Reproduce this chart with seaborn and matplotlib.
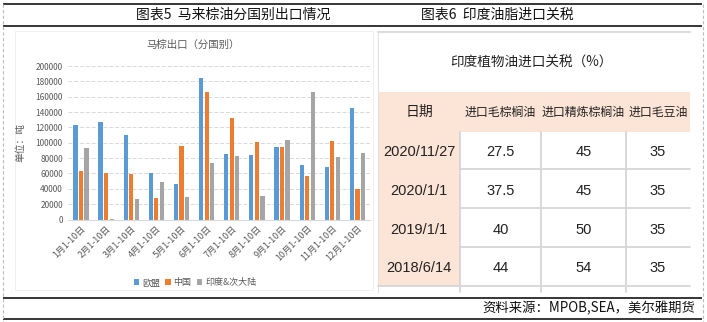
import numpy as np
import pandas as pd
import matplotlib
matplotlib.use("Agg")
import matplotlib.pyplot as plt
from matplotlib import font_manager
from matplotlib.patches import Rectangle
import seaborn as sns

# ---- export data (tonnes) ----
months = ["1月1-10日", "2月1-10日", "3月1-10日", "4月1-10日", "5月1-10日", "6月1-10日",
          "7月1-10日", "8月1-10日", "9月1-10日", "10月1-10日", "11月1-10日", "12月1-10日"]
regions = ["欧盟", "中国", "印度&次大陆"]
eu = [122500, 127400, 110700, 60000, 46000, 184200, 85300, 84000, 94100, 71300, 68700, 145700]
china = [63500, 60000, 59100, 28000, 96300, 166300, 132200, 100700, 94100, 57300, 102400, 39400]
india = [93200, 1300, 26700, 48600, 28900, 73100, 83200, 30600, 103700, 165900, 81800, 87100]
yticks = list(range(0, 200001, 20000))
palette = ["#5B9BD5", "#ED7D31", "#A5A5A5"]

# ---- India tariff table (%) ----
tariff_dates = ["2020/11/27", "2020/1/1", "2019/1/1", "2018/6/14"]
tariff_cols = ["进口毛棕榈油", "进口精炼棕榈油", "进口毛豆油"]
crude_palm = ["27.5", "37.5", "40", "44"]
refined_palm = ["45", "45", "50", "54"]
crude_soy = ["35", "35", "35", "35"]

sns.set_style("white")
plt.rcParams["font.family"] = ["Noto Sans CJK SC", "DejaVu Sans"]
names = {f.name for f in font_manager.fontManager.ttflist}
narrow = "Liberation Sans Narrow" if "Liberation Sans Narrow" in names else "Liberation Sans"

W, H = 707, 322
fig = plt.figure(figsize=(W / 100, H / 100), dpi=100)


def box(x0, y0, x1, y1):
    return [x0 / W, 1 - y1 / H, (x1 - x0) / W, (y1 - y0) / H]


# page canvas in pixel units
canvas = fig.add_axes([0, 0, 1, 1], zorder=0)
canvas.set_xlim(0, W)
canvas.set_ylim(H, 0)
canvas.axis("off")

rule = dict(color="black", lw=1.1, solid_capstyle="butt")
for y in (4, 26, 297.5, 318.5):
    canvas.plot([3, 702], [y, y], **rule)
for x in (3, 703):
    canvas.plot([x, x], [4, 322], color="#BDBDBD", lw=0.8, ls=(0, (3, 2)))

canvas.text(233, 15, "图表5  马来棕油分国别出口情况", fontsize=10, ha="center", va="center", color="#111111")
canvas.text(497, 15, "图表6  印度油脂进口关税", fontsize=10, ha="center", va="center", color="#111111")
canvas.text(695, 308, "资料来源：MPOB,SEA，美尔雅期货", fontsize=9.6, ha="right", va="center", color="#111111")

# left chart frame
canvas.add_patch(Rectangle((15, 31), 358, 259, fc="white", ec="#ECECEC", lw=0.6))

# ---- right panel: tariff table ----
peach = "#FCE4D6"
grid_c = "#D6D6D6"
canvas.plot([378, 690], [32, 32], color="#DDDDDD", lw=1.6)
canvas.plot([378, 378], [31, 292], color="#E2E2E2", lw=0.8)
canvas.add_patch(Rectangle((378, 92), 312, 40, fc=peach, ec="none"))
canvas.add_patch(Rectangle((378, 132), 82, 154, fc=peach, ec="none"))
for y in (169.3, 208.3, 247.3):
    canvas.plot([460, 690], [y, y], color=grid_c, lw=1.3)
canvas.plot([378, 690], [286, 286], color=grid_c, lw=1.3)
for x in (460, 541, 626):
    canvas.plot([x, x], [132, 292], color=grid_c, lw=1.3)

txt_c = "#222222"
canvas.text(531.5, 63, "印度植物油进口关税（%）", fontsize=9.8, ha="center", va="center", color=txt_c)
col_x = [419, 500.5, 583.5, 658]
canvas.text(col_x[0], 112, "日期", fontsize=10, ha="center", va="center", color=txt_c)
for cx, name in zip(col_x[1:], tariff_cols):
    canvas.text(cx, 112, name, fontsize=8.6, ha="center", va="center", color=txt_c)
row_y = [152, 190.5, 229.5, 268]
for i, ry in enumerate(row_y):
    vals = [tariff_dates[i], crude_palm[i], refined_palm[i], crude_soy[i]]
    for cx, v in zip(col_x, vals):
        canvas.text(cx, ry, v, fontsize=10.5, ha="center", va="center", color=txt_c, family=narrow)

# ---- left chart: exports by destination ----
df = pd.DataFrame({
    "月份": months * 3,
    "地区": np.repeat(regions, len(months)),
    "出口量": eu + china + india,
})
ax = fig.add_axes(box(68.4, 66, 370, 219.5), zorder=2)
ax.patch.set_alpha(0)
sns.barplot(data=df, x="月份", y="出口量", hue="地区", order=months, hue_order=regions,
            palette=palette, saturation=1, width=0.66, gap=0.25, errorbar=None,
            linewidth=0, ax=ax)
ax.set_xlim(-0.5, len(months) - 0.5)
ax.set_ylim(0, 200000)
ax.set_yticks(yticks)
ax.set_yticklabels([str(v) for v in yticks])
ax.set_axisbelow(True)
ax.yaxis.grid(True, color="#D9D9D9", lw=0.7, ls=(0, (4, 2)))
for s in ("top", "right", "left"):
    ax.spines[s].set_visible(False)
ax.spines["bottom"].set_color("#D9D9D9")
ax.spines["bottom"].set_linewidth(0.8)
ax.tick_params(axis="both", length=0, colors="#595959", labelsize=6)
ax.tick_params(axis="y", pad=4)
ax.tick_params(axis="x", pad=3, labelsize=6.5)
ax.set_xticks(range(len(months)))
ax.set_xticklabels(months, rotation=45, ha="right", rotation_mode="anchor")
ax.set_xlabel("")
ax.set_ylabel("单位：吨", fontsize=7, color="#595959")
ax.yaxis.set_label_coords((25 - 68.4) / 301.6, 0.5)

fig.text(193 / W, 1 - 45 / H, "马棕出口（分国别）", fontsize=7.5, color="#595959", ha="center", va="center")

handles, labels = ax.get_legend_handles_labels()
leg = ax.legend(handles, labels, loc="center", bbox_to_anchor=(195 / W, 1 - 283 / H),
                bbox_transform=fig.transFigure, ncol=3, frameon=False, fontsize=6.5,
                handlelength=0.6, handleheight=0.6, handletextpad=0.3, columnspacing=0.6)
for t in leg.get_texts():
    t.set_color("#595959")

fig.savefig("out.png", dpi=100)
